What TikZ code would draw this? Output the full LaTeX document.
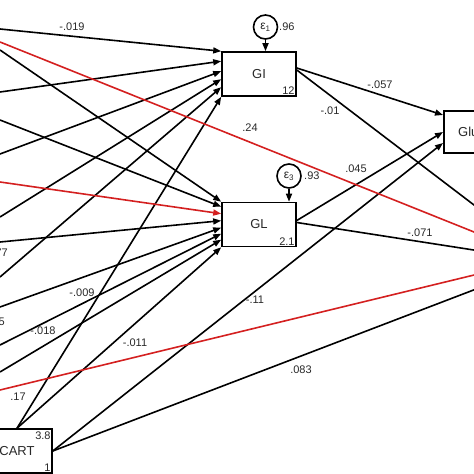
\documentclass[tikz,border=0pt]{standalone}
\usepackage{fontspec}
\setmainfont{Liberation Sans}
\usetikzlibrary{arrows.meta}
\definecolor{pathred}{RGB}{212,32,32}
\definecolor{ink}{RGB}{40,40,40}

\begin{document}
\begin{tikzpicture}[x=1pt,y=-1pt,>={Triangle[length=8pt,width=6pt]},
  var/.style={draw,line width=1.6pt,minimum width=74pt,minimum height=44pt,inner sep=0pt,text=ink,font=\fontsize{13}{13}\selectfont},
  err/.style={draw,circle,line width=1.6pt,minimum size=24pt,inner sep=0pt,text=ink,font=\fontsize{12}{12}\selectfont},
  coef/.style={inner sep=0pt,text=ink,font=\fontsize{11}{11}\selectfont},
  path/.style={->,line width=1.6pt},
  redpath/.style={path,draw=pathred}]
  \useasboundingbox (0,0) rectangle (474,474);
  \clip (0,0) rectangle (474,474);

  % boxes
  \node[var] (gi) at (259,74) {GI};
  \node[var] (gl) at (259,224.5) {GL};
  \node[var,anchor=west,minimum width=80pt,minimum height=42pt] (glu) at (443,132) {};
  \node[coef,anchor=west,font=\fontsize{13}{13}\selectfont] at ([xshift=15pt]glu.west) {Glu};
  \node[var,minimum width=70pt] (cart) at (17,451) {CART};
  \node[coef,anchor=south east] at ([shift={(-2,-2)}]gi.south east) {12};
  \node[coef,anchor=south east] at ([shift={(-2,-2)}]gl.south east) {2.1};
  \node[coef,anchor=north east] at ([shift={(-2,3)}]cart.north east) {3.8};
  \node[coef,anchor=south east] at ([shift={(-2,-2)}]cart.south east) {1};

  % error terms
  \node[err] (e1) at (265.5,27) {ε\textsubscript{1}};
  \node[err] (e3) at (289,176) {ε\textsubscript{3}};
  \node[coef,anchor=west] at (279,27) {.96};
  \node[coef,anchor=west] at (304,176) {.93};
  \draw[path] (e1) -- (e1 |- gi.north);
  \draw[path] (e3) -- (e3 |- gl.north);

  % off-picture ends
  \coordinate (x1) at (0,29);
  \coordinate (x2) at (0,42);
  \coordinate (x3) at (0,50);
  \coordinate (x4) at (0,92);
  \coordinate (x5) at (0,120);
  \coordinate (x6) at (0,154);
  \coordinate (x7) at (0,182);
  \coordinate (x8) at (0,217);
  \coordinate (x9) at (0,242);
  \coordinate (x10) at (0,277);
  \coordinate (x11) at (0,307);
  \coordinate (x12) at (0,345);
  \coordinate (x13) at (0,372);
  \coordinate (x14) at (0,390);
  \coordinate (r1) at (484,212.6);
  \coordinate (r2) at (484,236);
  \coordinate (r3) at (484,251.6);
  \coordinate (r4) at (484,272.6);
  \coordinate (r5) at (484,286);

  % paths into GI
  \path[path] (x1) edge ([yshift=0pt]gi.north west)
        (x4) edge ([yshift=-10pt]gi.north west)
        (x6) edge ([yshift=-20pt]gi.north west)
        (x8) edge ([yshift=-28pt]gi.north west)
        (x10) edge ([yshift=-36pt]gi.north west)
        ([xshift=0pt]cart.north) edge (gi.south west);
  % paths into GL
  \path[path] (x3) edge ([yshift=0pt]gl.north west)
        (x5) edge ([yshift=-5pt]gl.north west)
        (x9) edge ([yshift=-19pt]gl.north west)
        (x11) edge ([yshift=-26pt]gl.north west)
        (x12) edge ([yshift=-32pt]gl.north west)
        (x13) edge ([yshift=-38pt]gl.north west)
        ([xshift=0pt]cart.north) edge (gl.south west);
  \draw[redpath] (x7) -- ([yshift=-12pt]gl.north west);
  % paths into Glu
  \path[path] ([yshift=6pt]gi.east) edge ([yshift=17pt]glu.west)
        ([yshift=4pt]gl.east) edge (glu.west)
        (cart.east) edge ([yshift=-11pt]glu.west);
  % paths to the right
  \path[path] ([yshift=4pt]gi.east) edge (r1)
        ([yshift=2pt]gl.east) edge (r3)
        (cart.east) edge (r5);
  \draw[redpath] (x2) -- (r2);
  \draw[redpath] (x14) -- (r4);

  % coefficients
  \node[coef] at (72,27) {-.019};
  \node[coef] at (250,128) {.24};
  \node[coef] at (380,85) {-.057};
  \node[coef] at (330,111) {-.01};
  \node[coef] at (356,169) {.045};
  \node[coef] at (420,233) {-.071};
  \node[coef] at (255,300) {-.11};
  \node[coef] at (301,370) {.083};
  \node[coef] at (82,293) {-.009};
  \node[coef] at (43,331) {-.018};
  \node[coef] at (135,343) {-.011};
  \node[coef] at (18,397) {.17};
  \node[coef,anchor=east] at (8,253) {77};
  \node[coef,anchor=east] at (5,322) {5};
\end{tikzpicture}
\end{document}
